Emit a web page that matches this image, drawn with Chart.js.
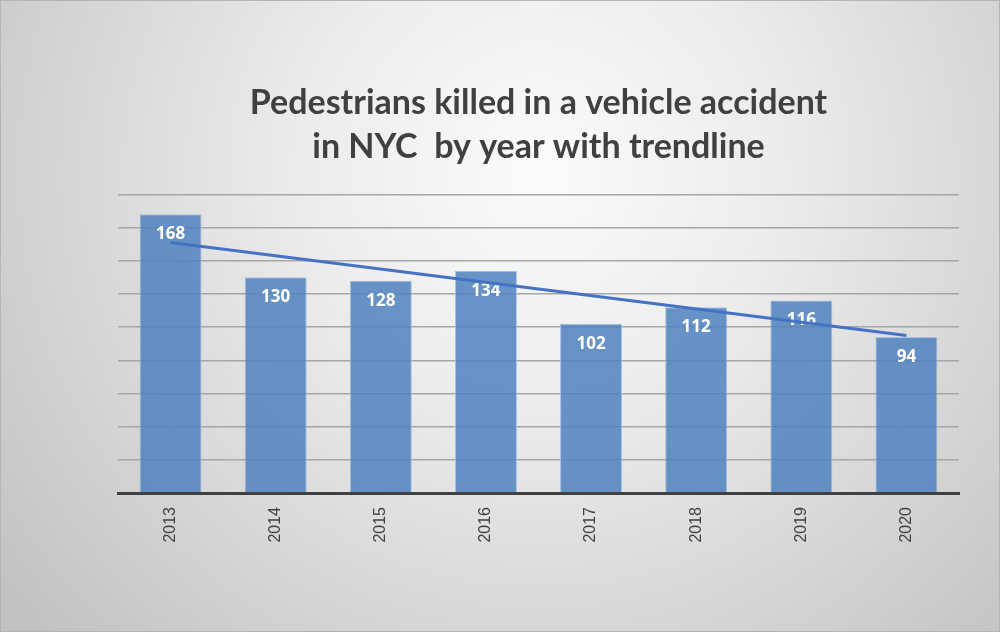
<!DOCTYPE html>
<html>
<head>
<meta charset="utf-8">
<script src="https://cdn.jsdelivr.net/npm/chart.js@4"></script>
<style>
html,body{margin:0;padding:0;background:#ddd;}
#wrap{width:1000px;height:632px;position:relative;}
canvas{display:block;}
</style>
</head>
<body>
<div id="wrap"><canvas id="c" width="1000" height="632"></canvas></div>
<script>
const years = ['2013','2014','2015','2016','2017','2018','2019','2020'];
const killed = [168, 130, 128, 134, 102, 112, 116, 94];
// trendline endpoints (value at 2013 and at 2020)
const trendStart = 151;
const trendEnd = 95;
const titleLines = ['Pedestrians killed in a vehicle accident', 'in NYC  by year with trendline'];
const yMax = 180;
const yStep = 20;

const trendData = years.map((y, i) => i === 0 ? trendStart : (i === years.length - 1 ? trendEnd : null));

const bgPlugin = {
  id: 'bg',
  beforeDraw(chart) {
    const ctx = chart.ctx;
    const w = chart.width, h = chart.height;
    ctx.save();
    const g = ctx.createRadialGradient(540, 170, 0, 540, 170, 680);
    g.addColorStop(0, '#fbfbfb');
    g.addColorStop(0.35, '#ececec');
    g.addColorStop(1, '#c2c2c2');
    ctx.fillStyle = g;
    ctx.fillRect(0, 0, w, h);
    ctx.strokeStyle = '#b4b4b4';
    ctx.lineWidth = 1;
    ctx.strokeRect(0.5, 0.5, w - 1, h - 1);
    ctx.restore();
  }
};

const labelPlugin = {
  id: 'barLabels',
  afterDatasetDraw(chart, args) {
    if (args.index !== 0) return;
    const ctx = chart.ctx;
    const meta = chart.getDatasetMeta(0);
    ctx.save();
    ctx.fillStyle = '#ffffff';
    ctx.font = 'bold 17px "Open Sans", "Liberation Sans", sans-serif';
    ctx.textAlign = 'center';
    ctx.textBaseline = 'middle';
    meta.data.forEach((bar, i) => {
      ctx.fillText(String(killed[i]), bar.x, bar.y + 20);
    });
    ctx.restore();
  }
};

new Chart(document.getElementById('c'), {
  type: 'bar',
  data: {
    labels: years,
    datasets: [
      {
        type: 'bar',
        data: killed,
        backgroundColor: 'rgba(79,129,189,0.85)',
        borderColor: 'rgba(160,190,225,0.9)',
        borderWidth: 1,
        barPercentage: 0.59,
        categoryPercentage: 1.0,
        order: 2
      },
      {
        type: 'line',
        data: trendData,
        borderColor: 'rgb(68,114,196)',
        borderWidth: 3,
        pointRadius: 0,
        spanGaps: true,
        fill: false,
        order: 1
      }
    ]
  },
  plugins: [bgPlugin, labelPlugin],
  options: {
    responsive: false,
    animation: false,
    devicePixelRatio: 1,
    layout: { padding: { left: 118, right: 41, top: 0, bottom: 0 } },
    plugins: {
      legend: { display: false },
      tooltip: { enabled: false },
      title: {
        display: true,
        text: titleLines,
        color: '#404040',
        font: { family: 'Lato, "Open Sans", sans-serif', size: 34, weight: 'bold', lineHeight: 1.3 },
        padding: { top: 81, bottom: 25 }
      }
    },
    scales: {
      x: {
        grid: { display: false },
        border: { display: true, color: '#404040', width: 3 },
        ticks: {
          color: '#404040',
          font: { family: '"Liberation Sans", Arial, sans-serif', size: 16 },
          minRotation: 90, maxRotation: 90,
          padding: 6
        },
        afterFit(scale) { scale.height = 139; }
      },
      y: {
        min: 0, max: yMax,
        ticks: { stepSize: yStep, display: false },
        grid: { color: '#a6a6a6', lineWidth: 1.5, drawTicks: false },
        border: { display: false },
        afterFit(scale) { scale.width = 0; }
      }
    }
  }
});
</script>
</body>
</html>
